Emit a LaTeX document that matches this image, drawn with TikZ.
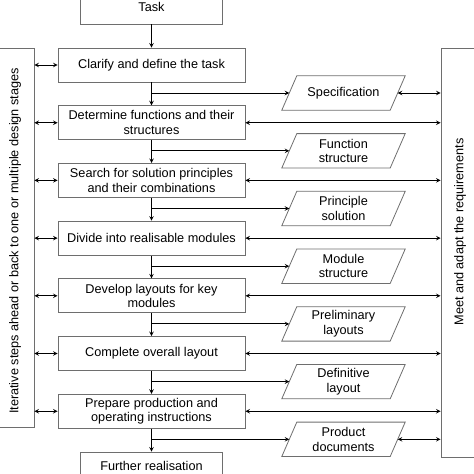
\documentclass[tikz,border=0pt]{standalone}
\usepackage{fontspec}
\setmainfont{Liberation Sans}
\definecolor{boxcol}{RGB}{110,110,110}
\newcommand{\slant}[1]{\draw [boxcol,line width=0.8pt] ([xshift=-7.5pt]#1.south west) -- ([xshift=7.5pt]#1.north west) -- ([xshift=7.5pt]#1.north east) -- ([xshift=-7.5pt]#1.south east) -- cycle;}
\tikzset{every picture/.style={x=1pt,y=-1pt}}
\tikzset{stage/.style={rectangle,draw=boxcol,line width=0.8pt,minimum width=187pt,minimum height=34pt,inner sep=1pt,align=center,font=\fontsize{12.7}{14.5}\selectfont}}
\tikzset{result/.style={rectangle,minimum width=108pt,minimum height=34pt,inner sep=1pt,align=center,font=\fontsize{12.7}{14.5}\selectfont}}
\tikzset{frame/.style={rectangle,draw=boxcol,line width=0.8pt,minimum width=38pt}}
\tikzset{sidetext/.style={rotate=90,font=\fontsize{12.7}{14.5}\selectfont}}
\tikzset{edge/.style={-stealth,line width=1pt}}
\tikzset{twoway/.style={stealth-stealth,line width=1pt}}

\begin{document}
\begin{tikzpicture}
\useasboundingbox (0,0) rectangle (474,474);
\clip (0,0) rectangle (474,474);

\node [stage,minimum width=142pt] (task) at (151.5,7) {Task};
\node [stage] (clar) at (151.5,65) {Clarify and define the task};
\node [stage] (func) at (151.5,122.7) {Determine functions and their\\structures};
\node [stage] (prin) at (151.5,180.4) {Search for solution principles\\and their combinations};
\node [stage] (divi) at (151.5,238.1) {Divide into realisable modules};
\node [stage] (devl) at (151.5,295.8) {Develop layouts for key\\modules};
\node [stage] (comp) at (151.5,353.5) {Complete overall layout};
\node [stage] (prep) at (151.5,411.2) {Prepare production and\\operating instructions};
\node [stage,minimum width=142pt,minimum height=28pt] (furt) at (151.5,466) {Further realisation};

\node [result] (spec) at (343.5,93) {Specification};
\node [result] (fstr) at (343.5,150.8) {Function\\structure};
\node [result] (psol) at (343.5,208.5) {Principle\\solution};
\node [result] (mstr) at (343.5,266.2) {Module\\structure};
\node [result] (play) at (343.5,323.9) {Preliminary\\layouts};
\node [result] (dlay) at (343.5,381.6) {Definitive\\layout};
\node [result] (pdoc) at (343.5,439.3) {Product\\documents};
\slant{spec}
\slant{fstr}
\slant{psol}
\slant{mstr}
\slant{play}
\slant{dlay}
\slant{pdoc}

\node [frame,minimum height=379pt] (iter) at (15,237.5) {};
\node [sidetext] at (15,241) {Iterative steps ahead or back to one or multiple design stages};
\node [frame,minimum height=409pt] (meet) at (460,252.5) {};
\node [sidetext] at (460,232) {Meet and adapt the requirements};

\draw [edge] (task) -- (clar);
\draw [edge] (clar) -- (func);
\draw [edge] (func) -- (prin);
\draw [edge] (prin) -- (divi);
\draw [edge] (divi) -- (devl);
\draw [edge] (devl) -- (comp);
\draw [edge] (comp) -- (prep);
\draw [edge] (prep) -- (furt);

\draw [edge] (clar.south |- spec.west) -- (spec.west);
\draw [edge] (func.south |- fstr.west) -- (fstr.west);
\draw [edge] (prin.south |- psol.west) -- (psol.west);
\draw [edge] (divi.south |- mstr.west) -- (mstr.west);
\draw [edge] (devl.south |- play.west) -- (play.west);
\draw [edge] (comp.south |- dlay.west) -- (dlay.west);
\draw [edge] (prep.south |- pdoc.west) -- (pdoc.west);

\draw [twoway] (iter.east |- clar.west) -- (clar.west);
\draw [twoway] (iter.east |- func.west) -- (func.west);
\draw [twoway] (iter.east |- prin.west) -- (prin.west);
\draw [twoway] (iter.east |- divi.west) -- (divi.west);
\draw [twoway] (iter.east |- devl.west) -- (devl.west);
\draw [twoway] (iter.east |- comp.west) -- (comp.west);
\draw [twoway] (iter.east |- prep.west) -- (prep.west);

\draw [twoway] (spec.east) -- (meet.west |- spec.east);
\draw [twoway] (func.east) -- (meet.west |- func.east);
\draw [twoway] (prin.east) -- (meet.west |- prin.east);
\draw [twoway] (divi.east) -- (meet.west |- divi.east);
\draw [twoway] (devl.east) -- (meet.west |- devl.east);
\draw [twoway] (comp.east) -- (meet.west |- comp.east);
\draw [twoway] (prep.east) -- (meet.west |- prep.east);
\draw [twoway] (pdoc.east) -- (meet.west |- pdoc.east);
\end{tikzpicture}
\end{document}
